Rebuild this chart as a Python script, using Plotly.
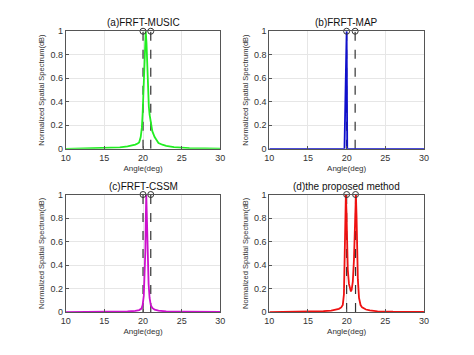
import plotly.graph_objects as go

# ---------------- data ----------------
panel_titles = ["(a)FRFT-MUSIC", "(b)FRFT-MAP", "(c)FRFT-CSSM", "(d)the proposed method"]
x_ticks = [10, 15, 20, 25, 30]
y_ticks = [0, 0.2, 0.4, 0.6, 0.8, 1]
y_tick_labels = ["0", "0.2", "0.4", "0.6", "0.8", "1"]

music_angle = [10, 12, 14, 16, 17, 18, 18.5, 19, 19.3, 19.5, 19.7, 19.85, 19.95, 20.05, 20.15, 20.25,
               20.35, 20.45, 20.55, 20.65, 20.75, 20.85, 21.0, 21.2, 21.5, 22.0, 22.5, 23, 24, 25, 26, 28, 30]
music_val = [0.0, 0.002, 0.004, 0.008, 0.012, 0.02, 0.027, 0.036, 0.045, 0.055, 0.1, 0.18, 0.3, 0.52,
             0.75, 0.93, 1.0, 0.9, 0.66, 0.48, 0.36, 0.29, 0.21, 0.15, 0.1, 0.05, 0.035, 0.025, 0.015,
             0.01, 0.006, 0.003, 0.002]

map_angle = [10, 19.72, 20.0, 20.08, 30]
map_val = [0, 0, 1, 0, 0]

cssm_angle = [10, 14, 17, 18, 19, 19.5, 19.8, 19.95, 20.1, 20.2, 20.3, 20.36, 20.42, 20.48, 20.55,
              20.62, 20.72, 20.85, 21.0, 21.2, 21.5, 22, 23, 25, 30]
cssm_val = [0, 0.001, 0.003, 0.005, 0.01, 0.017, 0.03, 0.06, 0.14, 0.27, 0.52, 0.8, 1.0, 0.85, 0.6,
            0.42, 0.24, 0.12, 0.06, 0.035, 0.02, 0.012, 0.006, 0.003, 0.001]

prop_angle = [10, 14, 16, 17, 18, 18.5, 19, 19.3, 19.5, 19.65, 19.75, 19.82, 19.9, 19.98, 20.05,
              20.15, 20.3, 20.45, 20.55, 20.65, 20.8, 20.95, 21.05, 21.12, 21.2, 21.28, 21.36, 21.45,
              21.6, 21.8, 22.0, 22.5, 23, 24, 26, 30]
prop_val = [0, 0.002, 0.005, 0.008, 0.013, 0.018, 0.028, 0.04, 0.06, 0.15, 0.45, 0.8, 1.0, 0.85,
            0.58, 0.36, 0.24, 0.19, 0.176, 0.19, 0.26, 0.45, 0.75, 0.93, 1.0, 0.82, 0.5, 0.28, 0.12,
            0.06, 0.04, 0.022, 0.014, 0.007, 0.003, 0.001]

true_angles = [[20.0, 21.0], [20.0, 21.1], [20.0, 21.0], [20.0, 21.15]]
marker_level = [1, 1]

series_x = [music_angle, map_angle, cssm_angle, prop_angle]
series_y = [music_val, map_val, cssm_val, prop_val]
colors = ["#22ee22", "#1010cc", "#cc10cc", "#ee1111"]

# ---------------- layout geometry ----------------
W, H = 474, 355
xdoms = [[62 / W, 220 / W], [270 / W, 428 / W], [62 / W, 220 / W], [270 / W, 428 / W]]
ydoms = [[(H - 148) / H, (H - 27) / H], [(H - 148) / H, (H - 27) / H],
         [(H - 316) / H, (H - 195) / H], [(H - 316) / H, (H - 195) / H]]

FONT = "Liberation Sans, Arial, sans-serif"
fig = go.Figure()

for i in range(4):
    xa = "x" if i == 0 else f"x{i+1}"
    ya = "y" if i == 0 else f"y{i+1}"
    # dashed true-angle lines
    dx, dy = [], []
    for a in true_angles[i]:
        dx += [a, a, None]
        dy += [0, 1, None]
    fig.add_trace(go.Scatter(x=dx, y=dy, mode="lines", xaxis=xa, yaxis=ya,
                             line=dict(color="#333333", width=1.2, dash="dash"),
                             showlegend=False, hoverinfo="skip"))
    fig.add_trace(go.Scatter(x=series_x[i], y=series_y[i], mode="lines", xaxis=xa, yaxis=ya,
                             line=dict(color=colors[i], width=1.8), showlegend=False))
    fig.add_trace(go.Scatter(x=true_angles[i], y=marker_level, mode="markers", xaxis=xa, yaxis=ya,
                             marker=dict(symbol="circle-open", size=6, color="#333333",
                                         line=dict(width=1)),
                             showlegend=False, cliponaxis=False))

    axcommon = dict(showline=True, mirror=True, linecolor="#555555", linewidth=1,
                    ticks="inside", ticklen=3, tickcolor="#555555",
                    showgrid=True, gridcolor="#e6e6e6", gridwidth=1, zeroline=False,
                    tickfont=dict(family=FONT, size=9, color="#333333"))
    xkey = "xaxis" if i == 0 else f"xaxis{i+1}"
    ykey = "yaxis" if i == 0 else f"yaxis{i+1}"
    fig.update_layout(**{
        xkey: dict(domain=xdoms[i], anchor=ya, range=[10, 30], tickvals=x_ticks,
                   title=dict(text="Angle(deg)", font=dict(family=FONT, size=8, color="#333333"),
                              standoff=3), **axcommon),
        ykey: dict(domain=ydoms[i], anchor=xa, range=[0, 1], tickvals=y_ticks,
                   ticktext=y_tick_labels,
                   title=dict(text="Normalized Spatial Spectrum(dB)",
                              font=dict(family=FONT, size=7.5, color="#333333"), standoff=4),
                   **axcommon),
    })
    fig.add_annotation(text=panel_titles[i], xref="paper", yref="paper",
                       x=(xdoms[i][0] + xdoms[i][1]) / 2, y=ydoms[i][1],
                       xanchor="center", yanchor="bottom", yshift=1, showarrow=False,
                       font=dict(family=FONT, size=10, color="#111111"))

fig.update_layout(width=W, height=H, margin=dict(l=0, r=0, t=0, b=0),
                  paper_bgcolor="white", plot_bgcolor="white")
fig.write_html("out.html", config={"displayModeBar": False},
               post_script="document.body.style.margin='0px';")
